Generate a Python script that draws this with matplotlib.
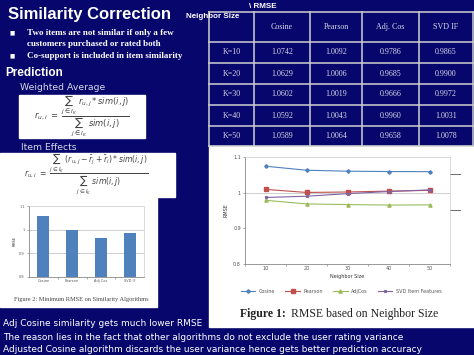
import matplotlib
matplotlib.use("Agg")
import matplotlib.pyplot as plt
from matplotlib.patches import Rectangle

W, H = 474, 355
NAVY = "#06066C"
TEXT_GRAY = "#D8D8E8"
CHART_TEXT = "#555555"

# RMSE by neighbour size (line chart)
neighbor_sizes = [10, 20, 30, 40, 50]
cosine = [1.0742, 1.0629, 1.0602, 1.0592, 1.0589]
pearson = [1.0092, 1.0006, 1.0019, 1.0043, 1.0064]
adj_cos = [0.9786, 0.9685, 0.9666, 0.9652, 0.9658]
svd_if = [0.9865, 0.9900, 0.9972, 1.0031, 1.0078]

# table as printed on the slide
table_rows = ["K=10", "K=20", "K=30", "K=40", "K=50"]
table_cols = ["Cosine", "Pearson", "Adj. Cos", "SVD IF"]
table_cosine = ["1.0742", "1.0629", "1.0602", "1.0592", "1.0589"]
table_pearson = ["1.0092", "1.0006", "1.0019", "1.0043", "1.0064"]
table_adj_cos = ["0.9786", "0.9685", "0.9666", "0.9960", "0.9658"]
table_svd_if = ["0.9865", "0.9900", "0.9972", "1.0031", "1.0078"]

# minimum RMSE per algorithm (bar chart)
algorithms = ["Cosine", "Pearson", "Adj Cos", "SVD IF"]
min_rmse = [1.0589, 1.0006, 0.9658, 0.9865]

rmse_ticks = [0.8, 0.9, 1.0, 1.1]
rmse_tick_labels = ["0.8", "0.9", "1", "1.1"]


def px_axes(fig, left, top, right, bottom):
    return fig.add_axes([left / W, 1 - bottom / H, (right - left) / W, (bottom - top) / H])


def style_chart(ax):
    ax.set_ylim(0.8, 1.1)
    ax.set_yticks(rmse_ticks)
    ax.set_yticklabels(rmse_tick_labels)
    ax.tick_params(axis="both", labelsize=3.5, labelcolor=CHART_TEXT, color="#888888",
                   length=1.5, width=0.5, pad=1.5)
    ax.tick_params(axis="x", which="major", length=0)
    ax.tick_params(axis="x", which="minor", length=1.5, width=0.5, color="#888888")
    for side in ["left", "bottom"]:
        ax.spines[side].set_color("#888888")
        ax.spines[side].set_linewidth(0.6)
    for side in ["top", "right"]:
        ax.spines[side].set_color("#CCCCCC")
        ax.spines[side].set_linewidth(0.5)


fig = plt.figure(figsize=(W / 100, H / 100), dpi=100, facecolor=NAVY)
bg = fig.add_axes([0, 0, 1, 1])
bg.set_xlim(0, W)
bg.set_ylim(H, 0)
bg.axis("off")

# white panels
bg.add_patch(Rectangle((19, 95), 126, 43, color="white"))
bg.add_patch(Rectangle((0, 153), 175, 44, color="white"))
bg.add_patch(Rectangle((0, 196), 157, 111, color="white"))
bg.add_patch(Rectangle((209, 146), 265, 181, color="white"))

# left column text
bg.text(8, 15, "Similarity Correction", color="white", fontsize=12, fontweight="bold",
        va="center", ha="left", family="Liberation Sans")
bullets = [(33, "Two items are not similar if only a few"),
           (44, "customers purchased or rated both"),
           (56, "Co-support is included in item similarity")]
for y, s in bullets:
    bg.text(27, y, s, color="white", fontsize=6.5, fontweight="bold", va="center",
            family="Liberation Serif")
bg.text(12, 33, "\u25a0", color="white", fontsize=4, va="center", ha="center")
bg.text(12, 56, "\u25a0", color="white", fontsize=4, va="center", ha="center")
bg.text(5, 73, "Prediction", color="white", fontsize=8.5, fontweight="bold", va="center",
        family="Liberation Sans")
bg.text(20, 88, "Weighted Average", color=TEXT_GRAY, fontsize=6.7, va="center")
bg.text(21, 148, "Item Effects", color=TEXT_GRAY, fontsize=6.7, va="center")

bg.text(82, 116, r"$r_{u,i}\ =\ \dfrac{\sum_{j \in I_K}\ r_{u,j} * sim(i,j)}{\sum_{j \in I_K}\ sim(i,j)}$",
        color="#444444", fontsize=6, ha="center", va="center")
bg.text(86, 174, r"$r_{u,i}\ =\ \dfrac{\sum_{j \in I_K}\ (r_{u,j} - \bar{r}_j + \bar{r}_i) * sim(i,j)}{\sum_{j \in I_K}\ sim(i,j)}$",
        color="#444444", fontsize=5.6, ha="center", va="center")

# table
col_edges = [209, 254, 310, 362, 419, 473]
row_edges = [12, 42, 63, 84, 105, 126, 146]
for x in col_edges:
    bg.plot([x, x], [row_edges[0], row_edges[-1]], color="#D0D0D0", lw=1.1)
for y in row_edges:
    bg.plot([col_edges[0], col_edges[-1]], [y, y], color="#D0D0D0", lw=1.1)
bg.text(249, 6, "\\ RMSE", color="white", fontsize=5.8, fontweight="bold", va="center",
        family="Liberation Sans")
bg.text(186, 17, "Neighbor Size", color="white", fontsize=5.8, fontweight="bold", va="center",
        family="Liberation Sans")
for i, name in enumerate(table_cols):
    cx = (col_edges[i + 1] + col_edges[i + 2]) / 2
    bg.text(cx, 27, name, color=TEXT_GRAY, fontsize=5.8, ha="center", va="center",
            family="Liberation Serif")
table_columns = [table_rows, table_cosine, table_pearson, table_adj_cos, table_svd_if]
for c, column in enumerate(table_columns):
    cx = (col_edges[c] + col_edges[c + 1]) / 2
    for r, val in enumerate(column):
        cy = (row_edges[r + 1] + row_edges[r + 2]) / 2
        bg.text(cx, cy, val, color=TEXT_GRAY, fontsize=5.8, ha="center", va="center",
                family="Liberation Serif")

# bottom text
notes = [(324, "Adj Cosine similarity gets much lower RMSE"),
         (337, "The reason lies in the fact that other algorithms do not exclude the user rating variance"),
         (350, "Adjusted Cosine algorithm discards the user variance hence gets better prediction accuracy")]
for y, s in notes:
    bg.text(3, y, s, color="white", fontsize=6.5, va="center")

# bar chart
axb = px_axes(fig, 29, 206, 144, 277)
xb = range(len(algorithms))
axb.bar(xb, min_rmse, width=0.42, color="#4F81BD", zorder=2)
axb.set_xlim(-0.5, len(algorithms) - 0.5)
axb.set_xticks(list(xb))
axb.set_xticklabels(algorithms)
axb.set_xticks([i + 0.5 for i in range(len(algorithms) - 1)], minor=True)
style_chart(axb)
axb.tick_params(axis="both", labelsize=2.5)
for v in [0.9, 1.0]:
    axb.axhline(v, color="#BBBBBB", lw=0.5, zorder=1)
axb.set_ylabel("RMSE", fontsize=2.5, color="#333333", labelpad=2)
bg.text(81, 299, "Figure 2: Minimum RMSE on Similarity Algorithms", color="#444444",
        fontsize=4.6, ha="center", va="center", family="Liberation Serif")

# line chart
axl = px_axes(fig, 245, 157, 450, 264)
xl = range(len(neighbor_sizes))
axl.plot(xl, cosine, color="#4F81BD", marker="D", ms=1.8, lw=0.8, label="Cosine")
axl.plot(xl, pearson, color="#C0504D", marker="s", ms=2.6, lw=0.8, label="Pearson")
axl.plot(xl, adj_cos, color="#9BBB59", marker="^", ms=2.3, lw=0.8, label="AdjCos")
axl.plot(xl, svd_if, color="#8064A2", marker="x", ms=1.8, lw=0.8, label="SVD Item Features")
axl.set_xlim(-0.5, len(neighbor_sizes) - 0.5)
axl.set_xticks(list(xl))
axl.set_xticklabels([str(n) for n in neighbor_sizes])
axl.set_xticks([i - 0.5 for i in range(len(neighbor_sizes) + 1)], minor=True)
style_chart(axl)
axl.axhline(1.0, color="#BBBBBB", lw=0.5, zorder=0)
axl.set_ylabel("RMSE", fontsize=3.5, color="#333333", labelpad=3)
axl.set_xlabel("Neighbor Size", fontsize=3.5, color="#333333", labelpad=2)
axl.legend(loc="upper center", bbox_to_anchor=(0.47, -0.19), ncol=4, fontsize=3.5,
           frameon=False, handlelength=3, columnspacing=2, labelcolor=CHART_TEXT)
for y in [174, 210]:
    bg.plot([245, 460], [y, y], color="#6A6A6A", lw=0.7, zorder=3)
bg.text(240, 314, "Figure 1:", color="#222222", fontsize=8.5, fontweight="bold",
        va="center", family="Liberation Serif")
bg.text(291, 314, "RMSE based on Neighbor Size", color="#222222", fontsize=8.5,
        va="center", family="Liberation Serif")

fig.savefig("out.png", dpi=100, facecolor=NAVY)
